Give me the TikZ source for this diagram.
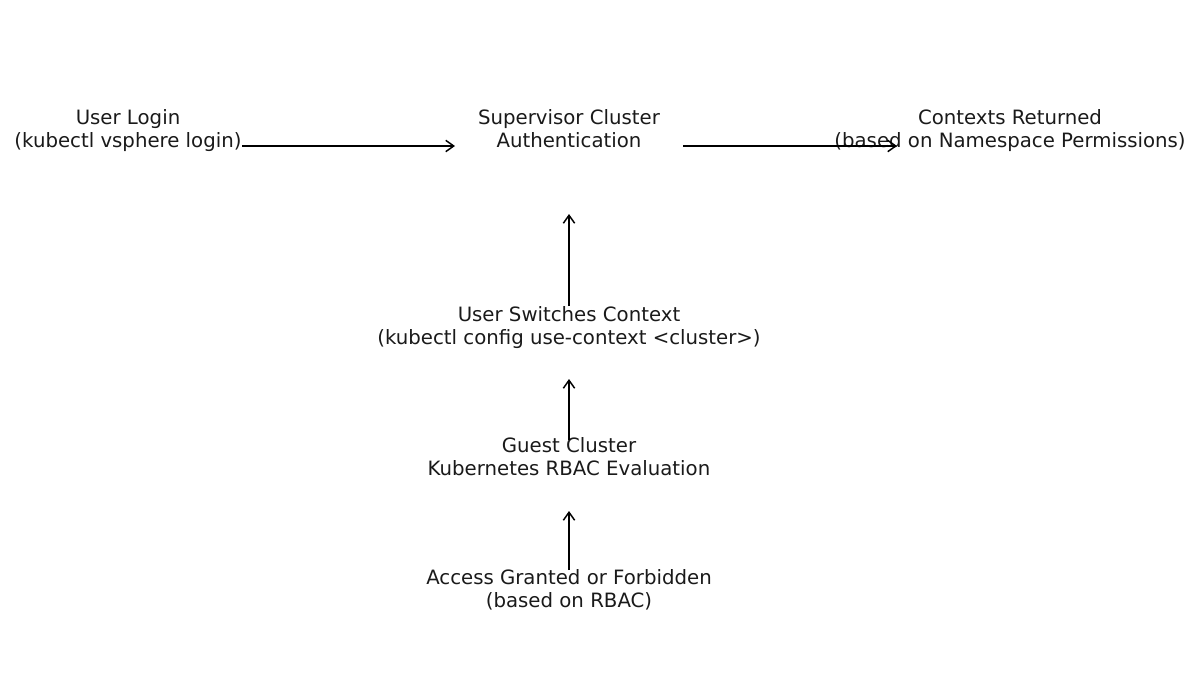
\documentclass[tikz,border=0pt]{standalone}
\usepackage{fontspec}
\setmainfont{DejaVu Sans}
\usetikzlibrary{arrows.meta}
\definecolor{txt}{RGB}{26,26,26}
\newcommand\lnstrut{\rule[-0.25em]{0pt}{1.05em}}
\tikzset{
  lbl/.style={align=center, inner sep=0pt, text=txt, font=\fontsize{14.8}{17.4}\selectfont},
  flow/.style={draw=black, line width=1.1pt, -{Straight Barb[length=6pt, width=8.5pt, line width=1.1pt]}}
}
\begin{document}
\begin{tikzpicture}[x=0.75pt, y=-0.75pt]
\useasboundingbox (0,0) rectangle (1200,686);
\node[lbl] (login) at (128,130.3) {\lnstrut User Login\\\lnstrut(kubectl vsphere login)};
\node[lbl] (sup) at (569,130.3) {\lnstrut Supervisor Cluster\\\lnstrut Authentication};
\node[lbl] (ctx) at (1010,130.3) {\lnstrut Contexts Returned\\\lnstrut(based on Namespace Permissions)};
\node[lbl] (sw) at (569,327.3) {\lnstrut User Switches Context\\\lnstrut(kubectl config use-context <cluster>)};
\node[lbl] (guest) at (569,458.8) {\lnstrut Guest Cluster\\\lnstrut Kubernetes RBAC Evaluation};
\node[lbl] (acc) at (569,590.8) {\lnstrut Access Granted or Forbidden\\\lnstrut(based on RBAC)};
\coordinate (a1s) at (242,146);
\coordinate (a1e) at (455,146);
\coordinate (a2s) at (683,146);
\coordinate (a2e) at (897,146);
\coordinate (a3s) at (569,306);
\coordinate (a3e) at (569,214);
\coordinate (a4s) at (569,440);
\coordinate (a4e) at (569,379);
\coordinate (a5s) at (569,570);
\coordinate (a5e) at (569,511);
\draw[flow] (a1s) -- (a1e);
\draw[flow] (a2s) -- (a2e);
\draw[flow] (a3s) -- (a3e);
\draw[flow] (a4s) -- (a4e);
\draw[flow] (a5s) -- (a5e);
\end{tikzpicture}
\end{document}
